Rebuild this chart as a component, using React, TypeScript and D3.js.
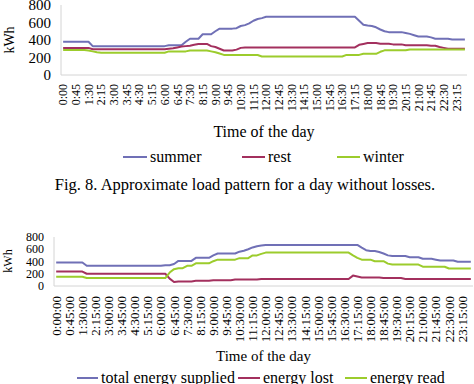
import React from "react";
import * as d3 from "d3";

// 15-minute categories of the day
const times: string[] = Array.from({ length: 96 }, (_, i) => `${Math.floor(i / 4)}:${String((i % 4) * 15).padStart(2, "0")}`);
const tickTimesTop = times.filter((_, i) => i % 3 === 0);
const tickLabelsBottom = tickTimesTop.map((t) => t + ":00");
const yTicks = [0, 200, 400, 600, 800];

// Fig. 8 series
const summer = [
  380, 380, 380, 380, 380, 380, 380,
  330, 330, 330, 330, 330, 330, 330, 330, 330, 330, 330, 330, 330, 330, 330, 330, 330, 330,
  340, 340, 340, 340, 380, 415, 415, 415, 465, 465, 465, 500,
  530, 530, 530, 530, 535, 560, 570, 590, 620, 640, 650,
  665, 665, 665, 665, 665, 665, 665, 665, 665, 665, 665, 665, 665, 665, 665, 665, 665, 665, 665, 665, 665, 665,
  620, 575, 565, 560, 545, 520, 500, 490, 490, 490, 490, 480, 470, 455,
  440, 440, 440, 430, 415, 415, 415, 415, 405, 405, 405, 405,
];
const rest = [
  310, 310, 310, 310, 310, 310, 310,
  295, 295, 295, 295, 295, 295, 295, 295, 295, 295, 295, 295, 295, 295, 295, 295, 295, 295,
  300, 305, 315, 325, 330, 335, 345, 355, 355, 355, 330, 320, 300, 280, 280, 280, 290, 310,
  315, 315, 315, 315, 315, 315, 315, 315, 315, 315, 315, 315, 315, 315, 315, 315, 315, 315, 315, 315, 315, 315, 315, 315, 315, 315, 315,
  345, 355, 365, 365, 365, 358, 358, 358, 350, 350, 350,
  340, 340, 340, 340, 340, 340, 335, 335, 320, 310, 300, 300, 300, 300, 300,
];
const winter = [
  285, 285, 285, 285, 285, 285, 280, 270, 260,
  255, 255, 255, 255, 255, 255, 255, 255, 255, 255, 255, 255, 255, 255, 255, 255,
  270, 270, 270, 270, 270, 280, 280, 280, 280, 280, 270, 260, 245, 230, 230, 230, 230,
  228, 228, 228, 228, 228,
  212, 212, 212, 212, 212, 212, 212, 212, 212, 212, 212, 212, 212, 212, 212, 212, 212, 212, 212, 212,
  230, 230, 230, 230, 242, 242, 242, 242, 265, 282, 282, 282, 282, 282, 282,
  292, 292, 292, 292, 292, 292, 292, 292, 292, 292, 292, 292, 292, 292,
];

// second chart series
const totalSupplied = [
  385, 385, 385, 385, 385, 385, 385,
  330, 330, 330, 330, 330, 330, 330, 330, 330, 330, 330, 330, 330, 330, 330, 330, 330, 330,
  340, 340, 360, 410, 410, 410, 410, 460, 460, 460, 460, 500,
  530, 530, 530, 530, 530, 560, 575, 600, 630, 650, 660,
  670, 670, 670, 670, 670, 670, 670, 670, 670, 670, 670, 670, 670, 670, 670, 670, 670, 670, 670, 670, 670, 670,
  625, 585, 570, 570, 555, 530, 500, 490, 490, 490, 490, 470, 470, 470,
  445, 445, 445, 430, 415, 415, 415, 415, 395, 395, 395, 395,
];
const energyLost = [
  235, 235, 235, 235, 235, 235, 235,
  200, 200, 200, 200, 200, 200, 200, 200, 200, 200, 200, 200, 200, 200, 200, 200, 200, 200, 200,
  120, 65, 75, 75, 75, 75, 85, 85, 85, 85, 95, 95, 95, 95, 95,
  105, 105, 105, 105, 105, 105,
  115, 115, 115, 115, 115, 115, 115, 115, 115, 115, 115, 115, 115, 115, 115, 115, 115, 115, 115, 115, 115,
  170, 155, 140, 140, 140, 140, 140, 130, 130, 130, 130, 130,
  115, 115, 115, 115, 115, 115, 115, 115, 115, 115, 115, 115, 115, 115, 115, 115,
];
const energyRead = [
  150, 150, 150, 150, 150, 150, 150,
  130, 130, 130, 130, 130, 130, 130, 130, 130, 130, 130, 130, 130, 130, 130, 130, 130, 130, 130,
  220, 275, 290, 290, 330, 330, 370, 370, 370, 370, 405,
  430, 430, 430, 430, 430, 455, 455, 455, 500, 500, 525,
  545, 545, 545, 545, 545, 545, 545, 545, 545, 545, 545, 545, 545, 545, 545, 545, 545, 545, 545, 545,
  500, 460, 430, 430, 430, 405, 405, 405, 365,
  350, 350, 350, 350, 350, 350, 350,
  315, 315, 315, 315, 315, 315, 285, 285, 285, 285, 285, 285,
];

const BLUE = "#7070b6";
const RED = "#a3305e";
const GREEN = "#9ccc2c";
const AXIS = "#d4d4d4";
const FONT = "Liberation Serif, DejaVu Serif, serif";

type Series = { name: string; values: number[]; color: string };

type ChartProps = {
  x0: number; x1: number; yZero: number; yTop: number;
  series: Series[];
  tickLabels: string[];
  yFont: number; xFont: number; xLabelTop: number;
  kwhX: number; kwhY: number; kwhFont: number;
  titleY: number; titleFont: number;
  legendY: number; legendFont: number; legendItems: { x: number; w: number }[];
  yLabelRight: number;
};

function Chart(p: ChartProps) {
  const x = d3.scaleBand<string>().domain(times).range([p.x0, p.x1]);
  const bw = x.bandwidth();
  const y = d3.scaleLinear().domain([0, 800]).range([p.yZero, p.yTop]);
  const line = d3
    .line<number>()
    .x((_, i) => (x(times[i]) as number) + bw / 2)
    .y((d) => y(d));
  return (
    <g style={{ fontFamily: FONT }}>
      <line x1={p.x0} x2={p.x0} y1={y(800)} y2={y(0)} stroke={AXIS} strokeWidth={1} />
      <line x1={p.x0} x2={p.x1} y1={y(0)} y2={y(0)} stroke={AXIS} strokeWidth={1} />
      {yTicks.map((t) => (
        <text key={t} x={p.yLabelRight} y={y(t)} dy="0.35em" textAnchor="end" fontSize={p.yFont} fill="#000">
          {t}
        </text>
      ))}
      <text transform={`translate(${p.kwhX},${p.kwhY}) rotate(-90)`} textAnchor="middle" dy="0.35em" fontSize={p.kwhFont}>
        kWh
      </text>
      {p.tickLabels.map((lab, k) => {
        const cx = (x(times[k * 3]) as number) + bw / 2;
        return (
          <text key={lab} transform={`translate(${cx},${p.xLabelTop}) rotate(-90)`} textAnchor="end" dy="0.35em" fontSize={p.xFont}>
            {lab}
          </text>
        );
      })}
      {p.series.map((s) => (
        <path key={s.name} d={line(s.values) as string} fill="none" stroke={s.color} strokeWidth={2} strokeLinejoin="round" />
      ))}
      <text x={(p.x0 + p.x1) / 2} y={p.titleY} textAnchor="middle" fontSize={p.titleFont}>
        Time of the day
      </text>
      {p.series.map((s, i) => (
        <g key={s.name + "-lg"}>
          <line x1={p.legendItems[i].x} x2={p.legendItems[i].x + p.legendItems[i].w} y1={p.legendY} y2={p.legendY} stroke={s.color} strokeWidth={2} />
          <text x={p.legendItems[i].x + p.legendItems[i].w + 3} y={p.legendY} dy="0.3em" fontSize={p.legendFont}>
            {s.name}
          </text>
        </g>
      ))}
    </g>
  );
}

export default function App() {
  return (
    <svg width={474} height={384} style={{ position: "absolute", left: 0, top: 0, background: "#fff", fontFamily: FONT }}>
      <rect width={474} height={384} fill="#fff" />
      <Chart
        x0={61} x1={467} yZero={75} yTop={5}
        series={[
          { name: "summer", values: summer, color: BLUE },
          { name: "rest", values: rest, color: RED },
          { name: "winter", values: winter, color: GREEN },
        ]}
        tickLabels={tickTimesTop}
        yFont={15} xFont={12} xLabelTop={84}
        kwhX={9} kwhY={40} kwhFont={14}
        titleY={137} titleFont={16}
        legendY={157} legendFont={16}
        legendItems={[{ x: 123, w: 24 }, { x: 242, w: 23 }, { x: 337, w: 23 }]}
        yLabelRight={51}
      />
      <text x={245} y={190} textAnchor="middle" fontSize={16.5}>
        Fig. 8. Approximate load pattern for a day without losses.
      </text>
      <Chart
        x0={54} x1={473} yZero={286} yTop={237}
        series={[
          { name: "total energy supplied", values: totalSupplied, color: BLUE },
          { name: "energy lost", values: energyLost, color: RED },
          { name: "energy read", values: energyRead, color: GREEN },
        ]}
        tickLabels={tickLabelsBottom}
        yFont={12} xFont={13} xLabelTop={296}
        kwhX={8} kwhY={261} kwhFont={12}
        titleY={361} titleFont={15}
        legendY={378} legendFont={16}
        legendItems={[{ x: 77, w: 21 }, { x: 238, w: 22 }, { x: 345, w: 22 }]}
        yLabelRight={44}
      />
    </svg>
  );
}
